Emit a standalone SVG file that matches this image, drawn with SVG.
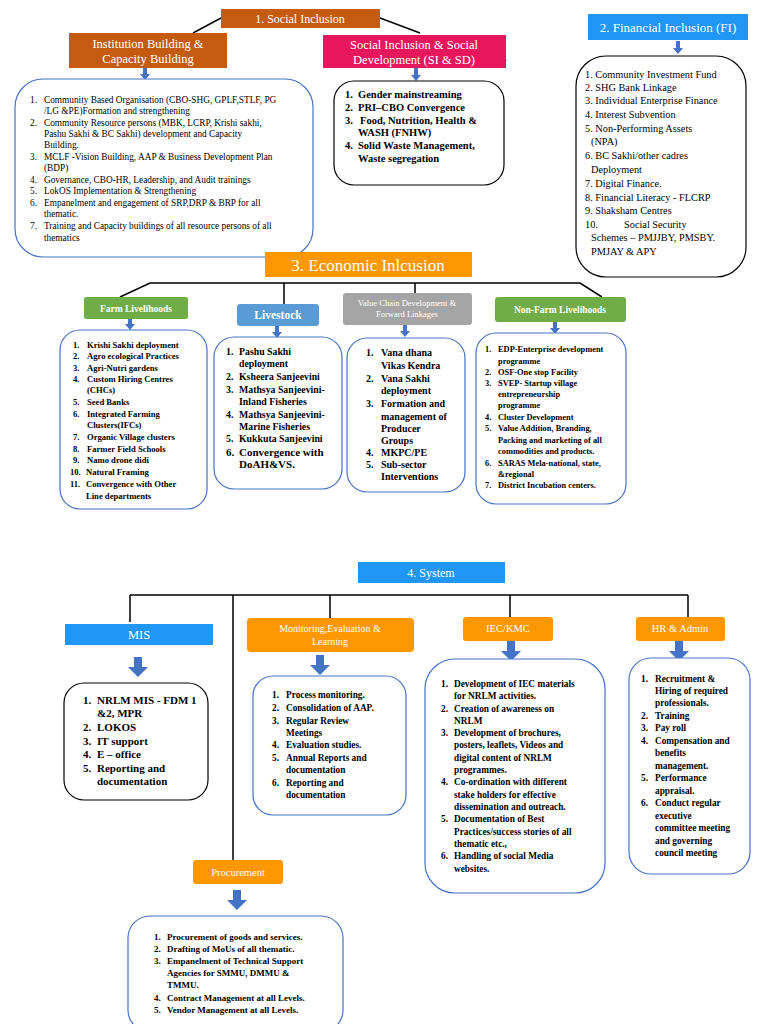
<svg xmlns="http://www.w3.org/2000/svg" width="768" height="1024" viewBox="0 0 768 1024">
<style>
text{font-family:"Liberation Serif","Times New Roman",serif;fill:#000}
.h{fill:#fff;text-anchor:middle}
.b{font-weight:bold}
.bl{fill:#fff;stroke:#4472C4;stroke-width:1.2}
.bk{fill:#fff;stroke:#000;stroke-width:1.2}
.ln{stroke:#000;stroke-width:1.5;fill:none}
.ar{fill:#4472C4}
</style>
<defs>
<path id="sa" d="M-2,0 h4 v7 h3 l-5,6 l-5,-6 h3 z"/>
<path id="la" d="M-4,0 h8 v10 h6 l-10,10 l-10,-10 h6 z"/>
</defs>
<g id="connectors">
<path class="ln" d="M221,18 L193,33 M380,18 L420,33"/>
<path class="ln" d="M120,297 L150,283 L580,283 L602,297 M284,283 V304 M415,283 V293"/>
<path class="ln" d="M130,595 H688 M130,595 V622 M233,595 V860 M330,595 V618 M510,595 V617 M688,595 V617"/>
<g class="ar">
<use href="#sa" x="145" y="67"/><use href="#sa" x="416" y="68"/><use href="#sa" x="502" y="53"/><use href="#sa" x="678" y="41"/>
<use href="#sa" x="130" y="317"/><use href="#sa" x="277" y="325"/><use href="#sa" x="405" y="324"/><use href="#sa" x="555" y="321"/>
<use href="#la" x="138" y="657"/><use href="#la" x="320" y="655"/><use href="#la" x="511" y="641"/><use href="#la" x="679" y="641"/><use href="#la" x="237" y="890"/>
</g>
</g>
<g id="social-inclusion">
<rect x="221" y="9" width="159" height="19" fill="#C55A11"/>
<text class="h" x="300" y="23" font-size="12">1.  Social Inclusion</text>
</g>
<g id="ib-cb">
<rect x="69" y="33" width="158" height="35" fill="#C55A11"/>
<text class="h" x="148" y="48" font-size="12.5">Institution Building &amp;</text>
<text class="h" x="148" y="63" font-size="12.5">Capacity Building</text>
</g>
<g id="si-sd">
<rect x="323" y="35" width="183" height="33" fill="#E8175D"/>
<text class="h" x="414" y="49" font-size="12.5">Social Inclusion &amp; Social</text>
<text class="h" x="414" y="64" font-size="12.5">Development (SI &amp; SD)</text>
</g>
<g id="ib-list">
<rect class="bl" x="15" y="79" width="298" height="178" rx="28"/>
<g font-size="9.3">
<text x="30" y="103">1.</text><text x="44" y="103">Community Based Organisation (CBO-SHG, GPLF,STLF, PG</text>
<text x="44" y="114">/LG &amp;PE)Formation and strengthening</text>
<text x="30" y="126">2.</text><text x="44" y="126">Community Resource persons (MBK, LCRP, Krishi sakhi,</text>
<text x="44" y="137">Pashu Sakhi &amp; BC Sakhi) development and Capacity</text>
<text x="44" y="148">Building.</text>
<text x="30" y="160">3.</text><text x="44" y="160">MCLF -Vision Building, AAP &amp; Business Development Plan</text>
<text x="44" y="171">(BDP)</text>
<text x="30" y="183">4.</text><text x="44" y="183">Governance, CBO-HR, Leadership, and Audit trainings</text>
<text x="30" y="194">5.</text><text x="44" y="194">LokOS Implementation &amp; Strengthening</text>
<text x="30" y="206">6.</text><text x="44" y="206">Empanelment and engagement of SRP,DRP &amp; BRP for all</text>
<text x="44" y="217">thematic.</text>
<text x="30" y="229">7.</text><text x="44" y="229">Training and Capacity buildings of all resource persons of all</text>
<text x="44" y="241">thematics</text>
</g>
</g>
<g id="si-list">
<rect class="bk" x="334" y="81" width="170" height="104" rx="20"/>
<g font-size="10.5" class="b">
<text x="345" y="98">1.</text><text x="358" y="98">Gender mainstreaming</text>
<text x="345" y="111">2.</text><text x="358" y="111">PRI–CBO Convergence</text>
<text x="345" y="124">3.</text><text x="360" y="124">Food, Nutrition, Health &amp;</text>
<text x="358" y="136">WASH (FNHW)</text>
<text x="345" y="149">4.</text><text x="358" y="149">Solid Waste Management,</text>
<text x="358" y="162">Waste segregation</text>
</g>
</g>
<g id="fi">
<rect x="588" y="14" width="160" height="26" fill="#2196F3"/>
<text class="h" x="668" y="32" font-size="13">2. Financial Inclusion (FI)</text>
</g>
<g id="fi-list">
<rect class="bk" x="576" y="56" width="170" height="221" rx="30"/>
<g font-size="10.3">
<text x="585" y="78">1.  Community Investment Fund</text>
<text x="585" y="91">2.  SHG Bank Linkage</text>
<text x="585" y="104">3.  Individual Enterprise Finance</text>
<text x="585" y="118">4.  Interest Subvention</text>
<text x="585" y="132">5.  Non-Performing Assets</text>
<text x="591" y="145">(NPA)</text>
<text x="585" y="159">6.  BC Sakhi/other cadres</text>
<text x="591" y="173">Deployment</text>
<text x="585" y="187">7.  Digital Finance.</text>
<text x="585" y="201">8.  Financial Literacy - FLCRP</text>
<text x="585" y="214">9.  Shaksham Centres</text>
<text x="585" y="228">10.</text><text x="624" y="228">Social Security</text>
<text x="591" y="241">Schemes – PMJJBY, PMSBY.</text>
<text x="591" y="255">PMJAY &amp; APY</text>
</g>
</g>
<g id="economic">
<rect x="265" y="252" width="207" height="25" fill="#FF9800"/>
<text class="h" x="368" y="271" font-size="17">3. Economic Inlcusion</text>
</g>
<g id="farm">
<rect x="84" y="297" width="104" height="22" rx="2" fill="#70AD47"/>
<text class="h b" x="136" y="312" font-size="9.5">Farm Livelihoods</text>
</g>
<g id="livestock">
<rect x="237" y="304" width="82" height="22" rx="3" fill="#5B9BD5"/>
<text class="h b" x="278" y="319" font-size="11.5">Livestock</text>
</g>
<g id="value-chain">
<rect x="343" y="293" width="129" height="32" rx="3" fill="#A5A5A5"/>
<text class="h" x="407" y="306" font-size="8.5">Value Chain Development &amp;</text>
<text class="h" x="407" y="317" font-size="8.5">Forward Linkages</text>
</g>
<g id="nonfarm">
<rect x="495" y="297" width="131" height="25" rx="3" fill="#70AD47"/>
<text class="h b" x="560" y="313" font-size="9.5">Non-Farm Livelihoods</text>
</g>
<g id="farm-list">
<rect class="bl" x="60" y="330" width="147" height="179" rx="20"/>
<g font-size="8.6" class="b">
<text x="73" y="348">1.</text><text x="87" y="348">Krishi Sakhi deployment</text>
<text x="73" y="359">2.</text><text x="87" y="359">Agro  ecological Practices</text>
<text x="73" y="371">3.</text><text x="87" y="371">Agri-Nutri gardens</text>
<text x="73" y="382">4.</text><text x="87" y="382">Custom Hiring Centres</text>
<text x="87" y="393">(CHCs)</text>
<text x="73" y="405">5.</text><text x="87" y="405">Seed Banks</text>
<text x="73" y="417">6.</text><text x="87" y="417">Integrated Farming</text>
<text x="87" y="428">Clusters(IFCs)</text>
<text x="73" y="440">7.</text><text x="87" y="440">Organic Village clusters</text>
<text x="73" y="452">8.</text><text x="87" y="452">Farmer Field Schools</text>
<text x="73" y="463">9.</text><text x="87" y="463">Namo drone didi</text>
<text x="70" y="475">10.</text><text x="86" y="475">Natural Framing</text>
<text x="70" y="487">11.</text><text x="86" y="487">Convergence with Other</text>
<text x="86" y="499">Line departments</text>
</g>
</g>
<g id="livestock-list">
<rect class="bl" x="214" y="337" width="128" height="152" rx="20"/>
<g font-size="9.8" class="b">
<text x="226" y="355">1.</text><text x="239" y="355">Pashu Sakhi</text>
<text x="239" y="367">deployment</text>
<text x="226" y="380">2.</text><text x="239" y="380">Ksheera Sanjeevini</text>
<text x="226" y="393">3.</text><text x="239" y="393">Mathsya Sanjeevini-</text>
<text x="239" y="405">Inland Fisheries</text>
<text x="226" y="418">4.</text><text x="239" y="418">Mathsya Sanjeevini-</text>
<text x="239" y="430">Marine Fisheries</text>
<text x="226" y="442">5.</text><text x="239" y="442">Kukkuta Sanjeevini</text>
<text x="226" y="456" font-size="11">6.</text><text x="239" y="456" font-size="11">Convergence with</text>
<text x="239" y="468" font-size="11">DoAH&amp;VS.</text>
</g>
</g>
<g id="vc-list">
<rect class="bl" x="347" y="338" width="118" height="154" rx="20"/>
<g font-size="10" class="b">
<text x="366" y="356">1.</text><text x="381" y="356">Vana dhana</text>
<text x="381" y="369">Vikas Kendra</text>
<text x="366" y="382">2.</text><text x="381" y="382">Vana Sakhi</text>
<text x="381" y="394">deployment</text>
<text x="366" y="407">3.</text><text x="381" y="407">Formation and</text>
<text x="381" y="420">management of</text>
<text x="381" y="432">Producer</text>
<text x="381" y="444">Groups</text>
<text x="366" y="456">4.</text><text x="381" y="456">MKPC/PE</text>
<text x="366" y="468">5.</text><text x="381" y="468">Sub-sector</text>
<text x="381" y="480">Interventions</text>
</g>
</g>
<g id="nonfarm-list">
<rect class="bl" x="476" y="333" width="150" height="171" rx="20"/>
<g font-size="8.4" class="b">
<text x="485" y="352">1.</text><text x="498" y="352">EDP-Enterprise development</text>
<text x="498" y="364">programme</text>
<text x="485" y="375">2.</text><text x="498" y="375">OSF-One stop Facility</text>
<text x="485" y="386">3.</text><text x="498" y="386">SVEP- Startup village</text>
<text x="498" y="397">entrepreneurship</text>
<text x="498" y="408">programme</text>
<text x="485" y="420">4.</text><text x="498" y="420">Cluster Development</text>
<text x="485" y="431">5.</text><text x="498" y="431">Value Addition, Branding,</text>
<text x="498" y="443">Packing and marketing of all</text>
<text x="498" y="454">commodities and products.</text>
<text x="485" y="466">6.</text><text x="498" y="466">SARAS Mela-national, state,</text>
<text x="498" y="477">&amp;regional</text>
<text x="485" y="488">7.</text><text x="498" y="488">District Incubation centers.</text>
</g>
</g>
<g id="system">
<rect x="358" y="562" width="147" height="21" fill="#2196F3"/>
<text class="h" x="431" y="577" font-size="12">4. System</text>
</g>
<g id="mis">
<rect x="65" y="624" width="148" height="21" fill="#2196F3"/>
<text class="h" x="139" y="639" font-size="12.5">MIS</text>
</g>
<g id="mel">
<rect x="247" y="618" width="167" height="34" rx="4" fill="#FF9800"/>
<text class="h" x="330" y="632" font-size="10">Monitoring,Evaluation &amp;</text>
<text class="h" x="330" y="645" font-size="10">Learning</text>
</g>
<g id="iec">
<rect x="463" y="617" width="90" height="24" rx="3" fill="#FF9800"/>
<text class="h" x="508" y="632" font-size="10.5">IEC/KMC</text>
</g>
<g id="hr">
<rect x="636" y="617" width="89" height="24" rx="3" fill="#FF9800"/>
<text class="h" x="680" y="632" font-size="10.5">HR &amp; Admin</text>
</g>
<g id="procurement">
<rect x="193" y="860" width="90" height="24" rx="3" fill="#FF9800"/>
<text class="h" x="238" y="876" font-size="10.5">Procurement</text>
</g>
<g id="mis-list">
<rect class="bk" x="64" y="683" width="144" height="117" rx="20"/>
<g font-size="11" class="b">
<text x="83" y="704">1.</text><text x="97" y="704">NRLM MIS - FDM 1</text>
<text x="97" y="717">&amp;2, MPR</text>
<text x="83" y="731">2.</text><text x="97" y="731">LOKOS</text>
<text x="83" y="745">3.</text><text x="97" y="745">IT support</text>
<text x="83" y="758">4.</text><text x="97" y="758">E – office</text>
<text x="83" y="772">5.</text><text x="97" y="772">Reporting and</text>
<text x="97" y="785">documentation</text>
</g>
</g>
<g id="mel-list">
<rect class="bl" x="253" y="676" width="153" height="139" rx="20"/>
<g font-size="9.3" class="b">
<text x="272" y="698">1.</text><text x="286" y="698">Process monitoring.</text>
<text x="272" y="711">2.</text><text x="286" y="711">Consolidation of AAP.</text>
<text x="272" y="724">3.</text><text x="286" y="724">Regular Review</text>
<text x="286" y="736">Meetings</text>
<text x="272" y="748">4.</text><text x="286" y="748">Evaluation studies.</text>
<text x="272" y="761">5.</text><text x="286" y="761">Annual Reports and</text>
<text x="286" y="773">documentation</text>
<text x="272" y="786">6.</text><text x="286" y="786">Reporting and</text>
<text x="286" y="798">documentation</text>
</g>
</g>
<g id="iec-list">
<rect class="bl" x="425" y="659" width="180" height="234" rx="30"/>
<g font-size="9.3" class="b">
<text x="441" y="687">1.</text><text x="454" y="687">Development of IEC materials</text>
<text x="454" y="699">for NRLM activities.</text>
<text x="441" y="712">2.</text><text x="454" y="712">Creation of awareness on</text>
<text x="454" y="724">NRLM</text>
<text x="441" y="736">3.</text><text x="454" y="736">Development of brochures,</text>
<text x="454" y="748">posters, leaflets, Videos and</text>
<text x="454" y="761">digital content of NRLM</text>
<text x="454" y="773">programmes.</text>
<text x="441" y="785">4.</text><text x="454" y="785">Co-ordination with different</text>
<text x="454" y="798">stake holders for effective</text>
<text x="454" y="810">dissemination and outreach.</text>
<text x="441" y="822">5.</text><text x="454" y="822">Documentation of Best</text>
<text x="454" y="835">Practices/success stories  of all</text>
<text x="454" y="847">thematic etc.,</text>
<text x="441" y="859">6.</text><text x="454" y="859">Handling of social Media</text>
<text x="454" y="872">websites.</text>
</g>
</g>
<g id="hr-list">
<rect class="bl" x="629" y="658" width="121" height="216" rx="22"/>
<g font-size="9.3" class="b">
<text x="641" y="682">1.</text><text x="655" y="682">Recruitment &amp;</text>
<text x="655" y="694">Hiring of required</text>
<text x="655" y="706">professionals.</text>
<text x="641" y="719">2.</text><text x="655" y="719">Training</text>
<text x="641" y="731">3.</text><text x="655" y="731">Pay roll</text>
<text x="641" y="744">4.</text><text x="655" y="744">Compensation and</text>
<text x="655" y="756">benefits</text>
<text x="655" y="769">management.</text>
<text x="641" y="781">5.</text><text x="655" y="781">Performance</text>
<text x="655" y="794">appraisal.</text>
<text x="641" y="806">6.</text><text x="655" y="806">Conduct regular</text>
<text x="655" y="819">executive</text>
<text x="655" y="831">committee meeting</text>
<text x="655" y="844">and governing</text>
<text x="655" y="856">council meeting</text>
</g>
</g>
<g id="proc-list">
<rect class="bl" x="128" y="916" width="215" height="116" rx="22"/>
<g font-size="9" class="b">
<text x="154" y="940">1.</text><text x="167" y="940">Procurement of goods and services.</text>
<text x="154" y="952">2.</text><text x="167" y="952">Drafting of MoUs of all thematic.</text>
<text x="154" y="964">3.</text><text x="167" y="964">Empanelment of Technical Support</text>
<text x="167" y="976">Agencies for SMMU, DMMU &amp;</text>
<text x="167" y="988">TMMU.</text>
<text x="154" y="1001">4.</text><text x="167" y="1001">Contract Management at all Levels.</text>
<text x="154" y="1013">5.</text><text x="167" y="1013">Vendor Management at all Levels.</text>
</g>
</g>
</svg>
